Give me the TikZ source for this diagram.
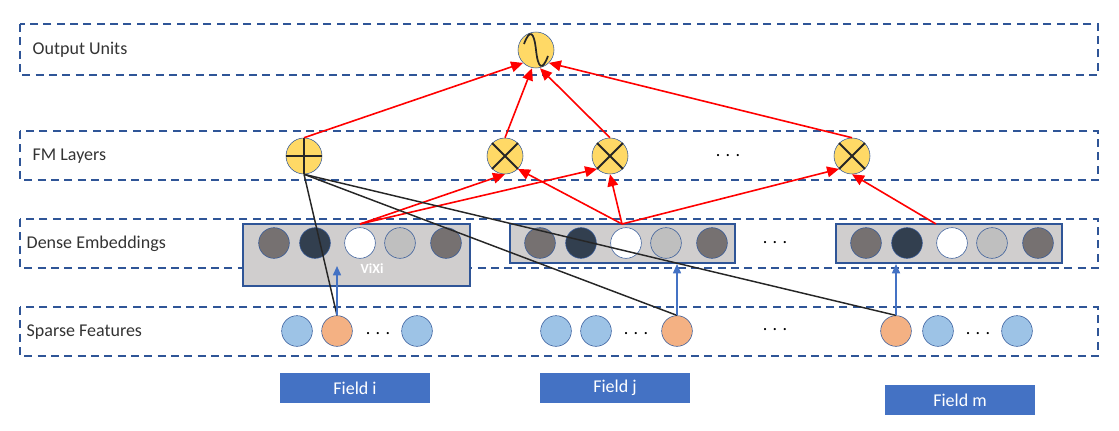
\documentclass[tikz,border=0pt]{standalone}
\usepackage{fontspec}
\setmainfont{Carlito}
\usetikzlibrary{arrows.meta}
\definecolor{band}{HTML}{2F5597}
\definecolor{gold}{HTML}{FFD966}
\definecolor{peach}{HTML}{F4B183}
\definecolor{lblue}{HTML}{9DC3E6}
\definecolor{fld}{HTML}{4472C4}
\definecolor{boxg}{HTML}{D0CECE}
\definecolor{cA}{HTML}{767171}
\definecolor{cB}{HTML}{323F4F}
\definecolor{cD}{HTML}{BFBFBF}
\begin{document}
\begin{tikzpicture}[x=0.75pt,y=-0.75pt,
 band/.style={draw=band,dashed,dash pattern=on 6pt off 4pt,line width=1.2pt},
 lab/.style={anchor=west,font=\fontsize{13.5}{16}\selectfont,text=black!80},
 op/.style={circle,draw=band,fill=gold,minimum size=27pt,inner sep=0pt},
 emb/.style={circle,draw=band,minimum size=23pt,inner sep=0pt},
 sp/.style={circle,draw=band,fill=lblue,minimum size=23pt,inner sep=0pt},
 or/.style={sp,fill=peach},
 ebox/.style={draw=band,fill=boxg,line width=0.8pt},
 field/.style={fill=fld,text=white,minimum width=112pt,minimum height=23pt,font=\fontsize{13.5}{16}\selectfont},
 red/.style={draw=red,line width=1.2pt,-{Triangle[length=9pt,width=8pt]}},
 blk/.style={draw=black!85,line width=1.1pt},
 blu/.style={draw=fld,line width=1.2pt,-{Triangle[length=7pt,width=6pt]}},
 dots/.style={font=\fontsize{13.5}{16}\selectfont}]
\useasboundingbox (0,0) rectangle (1119,431);
\draw[band] (20,24) rectangle (1098,75);
\draw[band] (20,131) rectangle (1098,180);
\draw[band] (20,219) rectangle (1098,268);
\draw[band] (20,307) rectangle (1098,356);
\node[lab] (l1) at (28,50) {Output Units};
\node[lab] (l2) at (28,156) {FM Layers};
\node[lab] (l3) at (22,244) {Dense Embeddings};
\node[lab] (l4) at (22,332) {Sparse Features};
% dense boxes
\draw[ebox] (243,224) rectangle (470,286);
\draw[ebox] (510,224) rectangle (735,263);
\draw[ebox] (836,224) rectangle (1062,263);
\node[text=white,font=\fontsize{10.5}{12}\selectfont\bfseries] (vx) at (372,269) {ViXi};
\foreach \b/\n in {0/a,266/b,592/c}{
 \node[emb,fill=cA] (\n1) at (274+\b,243) {};
 \node[emb,fill=cB] (\n2) at (315+\b,243) {};
 \node[emb,fill=white] (\n3) at (360+\b,243) {};
 \node[emb,fill=cD] (\n4) at (400+\b,243) {};
 \node[emb,fill=cA] (\n5) at (446+\b,243) {};
}
\coordinate (ta) at (360,224); \coordinate (tb) at (622,224); \coordinate (tc) at (936,224);
\node[dots] (dd) at (775,243) {. . .};
% ops
\node[op] (out) at (536,50) {};
\draw[line width=1.3pt,black!85] (524,44) .. controls (530,28) and (534,32) .. (536,50) .. controls (538,68) and (542,72) .. (548,56);
\node[op] (s) at (304,156) {};
\draw[line width=1.5pt,black!85] (s.north)--(s.south) (s.west)--(s.east);
\foreach \n/\x in {m1/505,m2/610,m3/852}{
 \node[op] (\n) at (\x,156) {};
 \draw[line width=1.5pt,black!85] (\n.north west)--(\n.south east) (\n.north east)--(\n.south west);
}
\node[dots] (fd) at (728,156) {. . .};
% sparse
\node[sp] (p1) at (297,331) {}; \node[or] (p2) at (337,331) {};
\node[dots] (d1) at (378,334) {. . .}; \node[sp] (p3) at (417,331) {};
\node[sp] (q1) at (556,331) {}; \node[sp] (q2) at (596,331) {};
\node[dots] (d2) at (636,334) {. . .}; \node[or] (q3) at (677,331) {};
\node[dots] (d3) at (775,330) {. . .};
\node[or] (r1) at (896,331) {}; \node[sp] (r2) at (938,331) {};
\node[dots] (d4) at (978,334) {. . .}; \node[sp] (r3) at (1017,331) {};
% fields
\node[field] (fi) at (355,388) {Field i};
\node[field] (fj) at (615,388) {Field j};
\node[field] (fm) at (960,400) {Field m};
% red
\draw[red] (s.north) -- (out.south west);
\draw[red] (m1.north) -- ([xshift=-3pt]out.south);
\draw[red] (m2.north) -- ([xshift=3pt]out.south);
\draw[red] (m3.north) -- (out.south east);
\draw[red] (ta) -- (m1.south);
\draw[red] (ta) -- (m2.south west);
\draw[red] (tb) -- (m1.south east);
\draw[red] (tb) -- (m2.south);
\draw[red] (tb) -- (m3.south west);
\draw[red] (tc) -- (m3.south);
% black
\draw[blk] (s.south) -- (p2.north);
\draw[blk] (s.south) -- (q3.north);
\draw[blk] (s.south) -- (r1.north);
% blue
\draw[blu] (p2.north) -- (337,266);
\draw[blu] (q3.north) -- (677,264);
\draw[blu] (r1.north) -- (896,264);
\end{tikzpicture}
\end{document}
